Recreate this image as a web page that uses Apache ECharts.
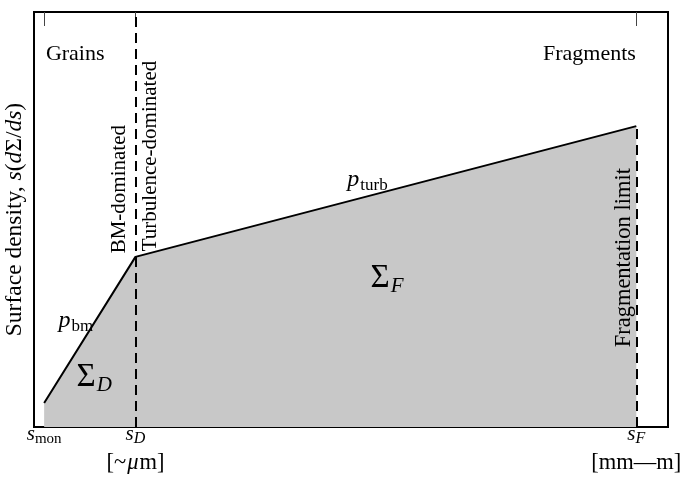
<!DOCTYPE html>
<html><head><meta charset="utf-8">
<script src="https://cdn.jsdelivr.net/npm/echarts@6/dist/echarts.min.js"></script>
<style>html,body{margin:0;padding:0;background:#fff}#c{width:683px;height:480px}</style>
</head><body><div id="c"></div>
<script>
// ---- data ----
const sizes = [1.6, 16.0, 95.0];          // s_mon, s_D, s_F (schematic x positions)
const density = [5.8, 41.0, 72.5];        // surface density at those sizes (schematic)
const tickSubs = ['mon', 'D', 'F'];
const tickSubItalic = [false, true, true];
const unitLabels = [null, ['[~', 'μ', 'm]'], ['[mm—m]', '', '']];
const yName = 'Surface density, ';
const regionLabels = ['Grains', 'Fragments'];
const regimeLabels = ['BM-dominated', 'Turbulence-dominated', 'Fragmentation limit'];
const slopeSubs = ['bm', 'turb'];
const sigmaSubs = ['D', 'F'];

const FONT = '"Liberation Serif", "DejaVu Serif", serif';
const xMax = 100, yMax = 100;

const rich = {
  n: {fontFamily: FONT, fontSize: 21, color: '#000', lineHeight: 23, verticalAlign: 'top'},
  g: {fontFamily: FONT, fontSize: 22, color: '#000', lineHeight: 24, verticalAlign: 'top'},
  f: {fontFamily: FONT, fontSize: 22.5, color: '#000', lineHeight: 24, verticalAlign: 'top'},
  i: {fontFamily: FONT, fontSize: 21, fontStyle: 'italic', color: '#000', lineHeight: 23, verticalAlign: 'top'},
  sub: {fontFamily: FONT, fontSize: 15, color: '#000', lineHeight: 15, padding: [8, 0, 0, 0], verticalAlign: 'top'},
  subi: {fontFamily: FONT, fontSize: 16, fontStyle: 'italic', color: '#000', lineHeight: 16, padding: [7, 0, 0, 0], verticalAlign: 'top'},
  u: {fontFamily: FONT, fontSize: 22.5, color: '#000', lineHeight: 32, verticalAlign: 'middle'},
  ui: {fontFamily: FONT, fontSize: 22.5, fontStyle: 'italic', color: '#000', lineHeight: 32, verticalAlign: 'middle', padding: [0, 1, 0, 1]},
  big: {fontFamily: FONT, fontSize: 33, color: '#000', lineHeight: 33, verticalAlign: 'top'},
  bigsub: {fontFamily: FONT, fontSize: 21, fontStyle: 'italic', color: '#000', lineHeight: 21, padding: [14, 0, 0, 1], verticalAlign: 'top'},
  pi: {fontFamily: FONT, fontSize: 24, fontStyle: 'italic', color: '#000', lineHeight: 24, verticalAlign: 'top', padding: [0, 1, 0, 0]},
  ps: {fontFamily: FONT, fontSize: 17, color: '#000', lineHeight: 17, padding: [9, 0, 0, 0], verticalAlign: 'top'},
  yi: {fontFamily: FONT, fontSize: 23.5, fontStyle: 'italic', color: '#000'},
  yn: {fontFamily: FONT, fontSize: 23.5, color: '#000'}
};

function tickLabel(v) {
  const k = sizes.findIndex(s => Math.abs(s - v) < 1e-6);
  if (k < 0) return '';
  let t = '{i|s}' + (tickSubItalic[k] ? '{subi|' : '{sub|') + tickSubs[k] + '}';
  const u = unitLabels[k];
  if (u) t += '\n{u|' + u[0] + '}' + (u[1] ? '{ui|' + u[1] + '}' : '') + (u[2] ? '{u|' + u[2] + '}' : '');
  return t;
}

// layout of annotations (data-space anchors)
const ann = [
  {at: [6.5, 89.6], text: '{g|' + regionLabels[0] + '}'},
  {at: [87.6, 89.6], text: '{g|' + regionLabels[1] + '}'},
  {at: [13.6, 57.3], text: '{n|' + regimeLabels[0] + '}', rotate: 90},
  {at: [18.6, 65.3], text: '{n|' + regimeLabels[1] + '}', rotate: 90},
  {at: [93.1, 40.8], text: '{f|' + regimeLabels[2] + '}', rotate: 90},
  {at: [6.6, 25.5], text: '{pi|p}{ps|' + slopeSubs[0] + '}'},
  {at: [52.6, 59.5], text: '{pi|p}{ps|' + slopeSubs[1] + '}'},
  {at: [9.5, 12.0], text: '{big|Σ}{bigsub|' + sigmaSubs[0] + '}'},
  {at: [55.7, 35.9], text: '{big|Σ}{bigsub|' + sigmaSubs[1] + '}'}
];

const chart = echarts.init(document.getElementById('c'), null, {renderer: 'canvas'});
chart.setOption({
  animation: false,
  grid: {left: 34, right: 15, top: 12, bottom: 53, show: true, borderColor: '#000', borderWidth: 2,
         backgroundColor: 'transparent', outerBoundsMode: 'none', containLabel: false},
  xAxis: [
    {type: 'value', min: 0, max: xMax, position: 'bottom',
     axisLine: {show: false}, splitLine: {show: false},
     axisTick: {show: false},
     axisLabel: {show: true, customValues: sizes, formatter: tickLabel, rich: rich, margin: -3, hideOverlap: false,
                 showMinLabel: true, showMaxLabel: true}},
    {type: 'value', min: 0, max: xMax, position: 'top',
     axisLine: {show: false}, splitLine: {show: false}, axisLabel: {show: false},
     axisTick: {show: true, inside: true, length: 14, customValues: sizes, lineStyle: {color: '#444', width: 1}}}
  ],
  yAxis: {type: 'value', min: 0, max: yMax,
    axisLine: {show: false}, axisTick: {show: false}, axisLabel: {show: false}, splitLine: {show: false},
    name: '{yn|' + yName + '}{yi|s}{yn|(}{yi|d}{yn|Σ/}{yi|ds}{yn|)}',
    nameLocation: 'middle', nameGap: 7, nameRotate: 90,
    nameTextStyle: {rich: rich, fontFamily: FONT, fontSize: 23.5, color: '#000'}},
  series: [{
    type: 'line',
    data: sizes.map((s, k) => [s, density[k]]),
    symbol: 'none',
    lineStyle: {color: '#000', width: 2},
    areaStyle: {color: '#c8c8c8', opacity: 1},
    z: 2,
    markLine: {
      silent: true, symbol: 'none', label: {show: false},
      lineStyle: {color: '#000', width: 2, type: [10, 6]},
      data: [
        [{coord: [sizes[1], 0]}, {coord: [sizes[1], yMax]}],
        [{coord: [sizes[2], 0]}, {coord: [sizes[2], density[2]]}]
      ]
    },
    markPoint: {
      silent: true, symbol: 'circle', symbolSize: 0,
      data: ann.map(a => ({coord: a.at, label: {show: true, position: 'inside', formatter: a.text, rich: rich,
        rotate: a.rotate || 0, align: 'center', verticalAlign: 'middle'}})),
      itemStyle: {color: 'transparent'}
    }
  }]
});
</script>
</body></html>
